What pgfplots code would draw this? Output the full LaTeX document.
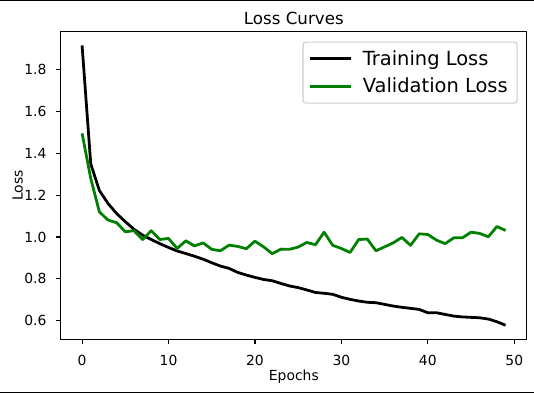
\documentclass[border=0pt]{standalone}
\usepackage{fontspec}
\setmainfont{DejaVu Sans}
\usepackage{pgfplots}
\usepackage{pgfplotstable}
\pgfplotsset{compat=1.18}
\definecolor{mplgreen}{RGB}{0,128,0}

\pgfplotstableread{
epoch loss
0 1.915
1 1.350
2 1.222
3 1.160
4 1.112
5 1.073
6 1.037
7 1.009
8 0.988
9 0.968
10 0.950
11 0.933
12 0.921
13 0.908
14 0.894
15 0.877
16 0.861
17 0.850
18 0.831
19 0.818
20 0.807
21 0.797
22 0.791
23 0.778
24 0.766
25 0.758
26 0.747
27 0.735
28 0.731
29 0.726
30 0.712
31 0.702
32 0.694
33 0.688
34 0.686
35 0.678
36 0.670
37 0.664
38 0.659
39 0.654
40 0.638
41 0.638
42 0.630
43 0.622
44 0.618
45 0.616
46 0.614
47 0.608
48 0.595
49 0.578
}\trainloss

\pgfplotstableread{
epoch loss
0 1.495
1 1.280
2 1.120
3 1.081
4 1.068
5 1.025
6 1.030
7 0.988
8 1.030
9 0.988
10 0.993
11 0.945
12 0.982
13 0.957
14 0.972
15 0.941
16 0.934
17 0.961
18 0.955
19 0.944
20 0.980
21 0.953
22 0.920
23 0.942
24 0.941
25 0.952
26 0.974
27 0.963
28 1.023
29 0.960
30 0.945
31 0.926
32 0.988
33 0.990
34 0.934
35 0.953
36 0.972
37 0.998
38 0.960
39 1.015
40 1.012
41 0.985
42 0.968
43 0.996
44 0.996
45 1.023
46 1.017
47 1.001
48 1.050
49 1.031
}\valloss

\begin{document}
\begin{tikzpicture}
\useasboundingbox (-43.85pt,-38.66pt) rectangle (340.6pt,244.3pt);
\draw[line width=1pt] (-43.85pt,243.8pt) -- (340.6pt,243.8pt);
\draw[line width=1pt] (-43.85pt,-38.16pt) -- (340.6pt,-38.16pt);
\begin{axis}[
  at={(0pt,0pt)}, anchor=south west,
  scale only axis, width=335.4pt, height=221.5pt,
  xmin=-2.45, xmax=51.45, ymin=0.511, ymax=1.981,
  xtick={0,10,20,30,40,50},
  ytick={0.6,0.8,1.0,1.2,1.4,1.6,1.8},
  tick align=outside, major tick length=3.5pt,
  tick style={line width=0.8pt, black},
  xtick pos=lower, ytick pos=left,
  axis line style={line width=0.8pt},
  /pgf/number format/assume math mode=true,
  yticklabel style={/pgf/number format/fixed, /pgf/number format/fixed zerofill, /pgf/number format/precision=1},
  ticklabel style={font=\fontsize{10}{12}\selectfont},
  xticklabel style={anchor=north, inner sep=0pt, yshift=-7.4pt},
  yticklabel style={anchor=east, inner sep=0pt, xshift=-6.7pt},
  title={Loss Curves},
  title style={font=\fontsize{12}{14}\selectfont, at={(axis description cs:0.5,1)}, anchor=base, yshift=-0.5pt},
  xlabel={Epochs},
  xlabel style={font=\fontsize{10}{12}\selectfont, at={(axis description cs:0.5,-0.1323)}, anchor=base},
  ylabel={Loss},
  ylabel style={font=\fontsize{10}{12}\selectfont, at={(axis description cs:-0.0822,0.5)}, anchor=base},
  legend style={at={(axis description cs:0.9805,0.968)}, anchor=north east,
    draw=black!20, line width=0.8pt, rounded corners=2pt, fill=white,
    font=\fontsize{14}{16.8}\selectfont, inner xsep=6.8pt, inner ysep=4pt, row sep=3.7pt,
    column sep=7.8pt, nodes={inner xsep=0pt}},
  legend cell align=left,
  legend image code/.code={\draw[#1, overlay] (-3pt,0pt) -- (26.5pt,0pt); \path (0pt,0pt) -- (26.5pt,0pt);},
]
\addplot[black, line width=2pt, line join=round] table[x=epoch, y=loss] {\trainloss};
\addlegendentry{Training Loss}
\addplot[mplgreen, line width=2pt, line join=round] table[x=epoch, y=loss] {\valloss};
\addlegendentry{Validation Loss}
\end{axis}
\end{tikzpicture}
\end{document}
